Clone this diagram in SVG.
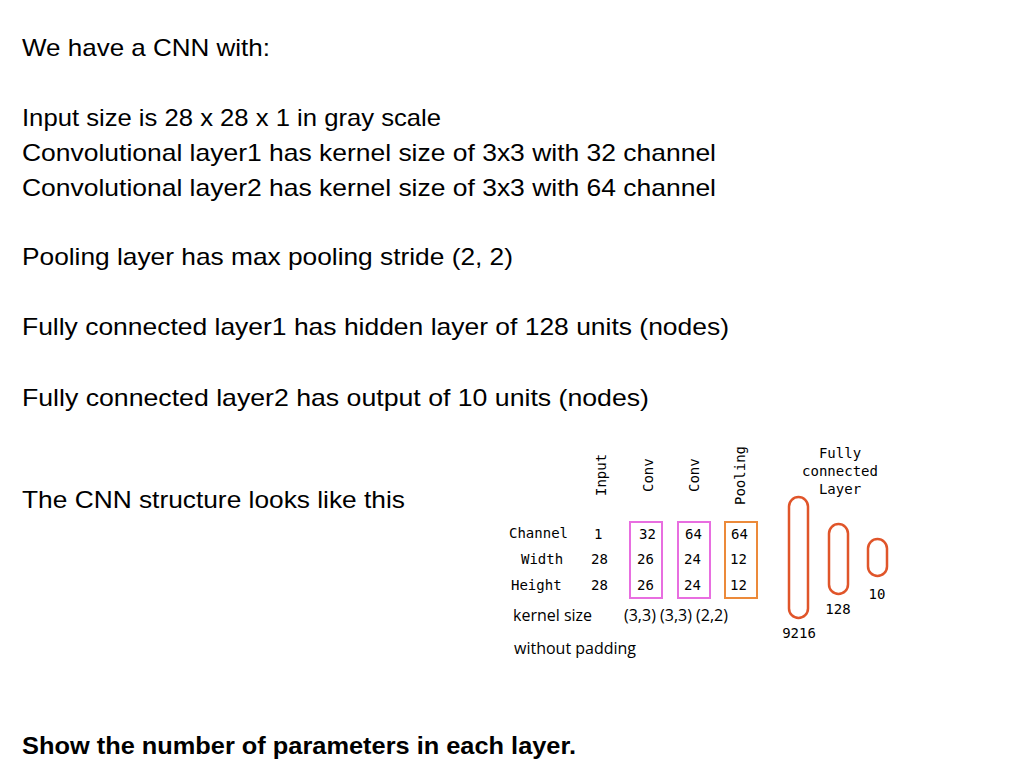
<svg xmlns="http://www.w3.org/2000/svg" width="1024" height="782" viewBox="0 0 1024 782">
<style>
.t{font-family:"Liberation Sans",Arial,sans-serif;font-size:24px;fill:#000}
.m{font-family:"DejaVu Sans Mono",monospace;font-size:14px;fill:#000}
.s{font-family:"Open Sans","Liberation Sans",sans-serif;font-size:16px;fill:#000}
.pk{fill:none;stroke:#e86ee0;stroke-width:2}
.or{fill:none;stroke:#ec8a3a;stroke-width:2}
.fc{fill:none;stroke:#e0552a;stroke-width:2.5}
</style>
<rect width="1024" height="782" fill="#fff"/>
<g id="text">
<text class="t" x="22" y="56" textLength="248" lengthAdjust="spacingAndGlyphs">We have a CNN with:</text>
<text class="t" x="22" y="126" textLength="419" lengthAdjust="spacingAndGlyphs">Input size is 28 x 28 x 1 in gray scale</text>
<text class="t" x="22" y="161" textLength="694" lengthAdjust="spacingAndGlyphs">Convolutional layer1 has kernel size of 3x3 with 32 channel</text>
<text class="t" x="22" y="196" textLength="694" lengthAdjust="spacingAndGlyphs">Convolutional layer2 has kernel size of 3x3 with 64 channel</text>
<text class="t" x="22" y="265" textLength="491" lengthAdjust="spacingAndGlyphs">Pooling layer has max pooling stride (2, 2)</text>
<text class="t" x="22" y="335" textLength="707" lengthAdjust="spacingAndGlyphs">Fully connected layer1 has hidden layer of 128 units (nodes)</text>
<text class="t" x="22" y="406" textLength="627" lengthAdjust="spacingAndGlyphs">Fully connected layer2 has output of 10 units (nodes)</text>
<text class="t" x="22" y="508" textLength="383" lengthAdjust="spacingAndGlyphs">The CNN structure looks like this</text>
<text class="t" x="22" y="754" font-weight="bold" textLength="554" lengthAdjust="spacingAndGlyphs">Show the number of parameters in each layer.</text>
</g>
<g id="headers" class="m">
<text class="m" transform="translate(606,496) rotate(-90)">Input</text>
<text class="m" transform="translate(653,492) rotate(-90)">Conv</text>
<text class="m" transform="translate(699,492) rotate(-90)">Conv</text>
<text class="m" transform="translate(745,505) rotate(-90)">Pooling</text>
<text class="m" x="840" y="458" text-anchor="middle">Fully</text>
<text class="m" x="840" y="476" text-anchor="middle">connected</text>
<text class="m" x="840" y="494" text-anchor="middle">Layer</text>
</g>
<g id="rows">
<text class="m" x="509" y="538">Channel</text>
<text class="m" x="521" y="564">Width</text>
<text class="m" x="511" y="590">Height</text>
<text class="m" x="594" y="539">1</text>
<text class="m" x="591" y="564">28</text>
<text class="m" x="591" y="590">28</text>
</g>
<g id="conv1">
<rect class="pk" x="630" y="522" width="32" height="76"/>
<text class="m" x="639" y="539">32</text><text class="m" x="637" y="564">26</text><text class="m" x="637" y="590">26</text>
</g>
<g id="conv2">
<rect class="pk" x="678" y="522" width="32" height="76"/>
<text class="m" x="685" y="539">64</text><text class="m" x="684" y="564">24</text><text class="m" x="684" y="590">24</text>
</g>
<g id="pool">
<rect class="or" x="725" y="522" width="32" height="76"/>
<text class="m" x="731" y="539">64</text><text class="m" x="730" y="564">12</text><text class="m" x="730" y="590">12</text>
</g>
<g id="kernel">
<text class="s" x="513" y="621">kernel size</text>
<text class="s" x="624" y="621">(3,3) (3,3) (2,2)</text>
<text class="s" x="514" y="654">without padding</text>
</g>
<g id="fc">
<rect class="fc" x="789" y="497" width="19" height="121" rx="9.5"/>
<rect class="fc" x="829" y="524" width="19" height="70" rx="9.5"/>
<rect class="fc" x="868" y="539" width="19" height="37" rx="9.5"/>
<text class="m" x="799" y="638" text-anchor="middle">9216</text>
<text class="m" x="838" y="614" text-anchor="middle">128</text>
<text class="m" x="877" y="599" text-anchor="middle">10</text>
</g>
<g id="connectors"/>
</svg>
